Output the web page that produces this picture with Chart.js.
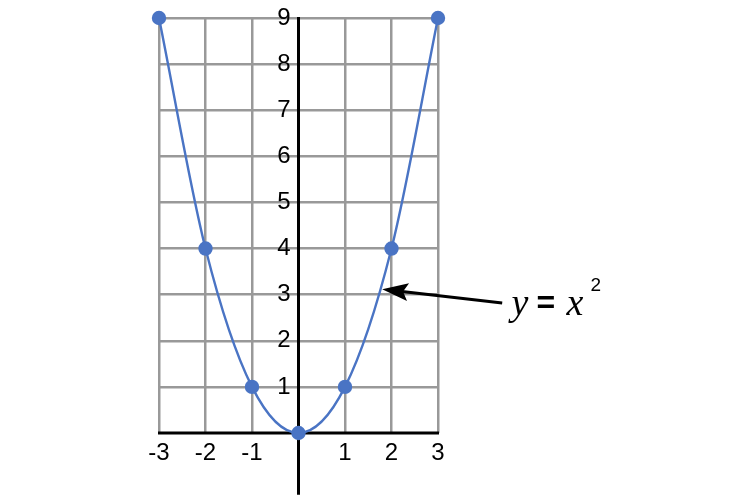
<!DOCTYPE html>
<html><head><meta charset="utf-8">
<script src="https://cdn.jsdelivr.net/npm/chart.js@4/dist/chart.umd.min.js"></script>
<style>html,body{margin:0;padding:0;background:#fff;overflow:hidden}</style>
</head><body>
<canvas id="c" width="750" height="500" style="width:750px;height:500px;display:block"></canvas>
<script>
const xValues = [-3, -2, -1, 0, 1, 2, 3];
const yValues = [9, 4, 1, 0, 1, 4, 9];
const xTickLabels = ['-3', '-2', '-1', '', '1', '2', '3'];
const yTickLabels = ['', '1', '2', '3', '4', '5', '6', '7', '8', '9'];
const curveName = 'y = x²';

const points = xValues.map((x, i) => ({x: x, y: yValues[i]}));

const axesPlugin = {
  id: 'axesPlugin',
  beforeDatasetsDraw(chart) {
    const {ctx, chartArea, scales: {x, y}} = chart;
    const x0 = x.getPixelForValue(0);
    const y0 = y.getPixelForValue(0);
    ctx.save();
    ctx.strokeStyle = '#000';
    ctx.lineWidth = 3;
    ctx.beginPath();
    ctx.moveTo(x0, chartArea.top - 1);
    ctx.lineTo(x0, y.getPixelForValue(-1.34));
    ctx.stroke();
    ctx.beginPath();
    ctx.moveTo(chartArea.left - 1, y0);
    ctx.lineTo(chartArea.right + 1, y0);
    ctx.stroke();
    ctx.restore();
  },
  afterDraw(chart) {
    const {ctx, scales: {x, y}} = chart;
    const tipX = x.getPixelForValue(1.8), tipY = y.getPixelForValue(3.12);
    const tailX = x.getPixelForValue(4.38), tailY = y.getPixelForValue(2.82);
    const ang = Math.atan2(tipY - tailY, tipX - tailX);
    ctx.save();
    ctx.strokeStyle = '#000';
    ctx.fillStyle = '#000';
    ctx.lineWidth = 3;
    const headLen = 24, headW = 9;
    const bx = tipX - headLen * Math.cos(ang), by = tipY - headLen * Math.sin(ang);
    ctx.beginPath();
    ctx.moveTo(tailX, tailY);
    ctx.lineTo(bx + 4 * Math.cos(ang), by + 4 * Math.sin(ang));
    ctx.stroke();
    ctx.beginPath();
    ctx.moveTo(tipX, tipY);
    ctx.lineTo(bx - headW * Math.sin(ang) - 2 * Math.cos(ang), by + headW * Math.cos(ang) - 2 * Math.sin(ang));
    ctx.lineTo(bx + 3 * Math.cos(ang), by + 3 * Math.sin(ang));
    ctx.lineTo(bx + headW * Math.sin(ang) - 2 * Math.cos(ang), by - headW * Math.cos(ang) - 2 * Math.sin(ang));
    ctx.closePath();
    ctx.fill();
    // label y = x²
    const parts = curveName.split(' ');
    const baseX = x.getPixelForValue(4.6), baseY = y.getPixelForValue(2.55);
    ctx.textBaseline = 'alphabetic';
    ctx.textAlign = 'left';
    ctx.font = 'italic 38px "Liberation Serif"';
    ctx.fillText(parts[0], baseX - 1, baseY);
    ctx.font = 'bold 32px "Liberation Sans"';
    ctx.fillText(parts[1], baseX + 24, baseY - 2);
    ctx.font = 'italic 38px "Liberation Serif"';
    const xs = parts[2].slice(0, 1), sup = parts[2].slice(1);
    ctx.fillText(xs, baseX + 54, baseY);
    ctx.font = '19px "Liberation Sans"';
    ctx.fillText(sup === '²' ? '2' : sup, baseX + 78, baseY - 24);
    ctx.restore();
  }
};

Chart.defaults.font.family = '"Liberation Sans", Arial, sans-serif';

new Chart(document.getElementById('c'), {
  type: 'scatter',
  data: {
    datasets: [{
      data: points,
      showLine: true,
      borderColor: '#4a74c4',
      backgroundColor: '#4a74c4',
      borderWidth: 2.4,
      pointRadius: 6,
      pointHoverRadius: 6,
      cubicInterpolationMode: 'monotone',
      clip: false
    }]
  },
  options: {
    responsive: false,
    animation: false,
    devicePixelRatio: 1,
    layout: {padding: {left: 159, right: 312, top: 18, bottom: 30}},
    plugins: {legend: {display: false}, tooltip: {enabled: false}},
    scales: {
      x: {
        type: 'linear',
        position: 'bottom',
        min: -3, max: 3,
        afterFit(s) { s.height = 37; s.paddingLeft = 0; s.paddingRight = 0; },
        border: {display: false},
        grid: {
          color: (c) => c.tick && c.tick.value === 0 ? 'rgba(0,0,0,0)' : '#999999',
          lineWidth: 2.5,
          drawTicks: false
        },
        ticks: {
          stepSize: 1,
          autoSkip: false,
          maxRotation: 0,
          color: '#000',
          font: {size: 24},
          padding: 6,
          callback: (v) => { const i = xValues.indexOf(v); return i >= 0 ? xTickLabels[i] : ''; }
        }
      },
      y: {
        type: 'linear',
        position: {x: -0.17},
        min: 0, max: 9,
        afterFit(s) { s.width = 0; s.paddingTop = 0; s.paddingBottom = 0; },
        border: {display: false},
        grid: {
          color: (c) => c.tick && c.tick.value === 0 ? 'rgba(0,0,0,0)' : '#999999',
          lineWidth: 2.5,
          drawTicks: false
        },
        ticks: {
          stepSize: 1,
          autoSkip: false,
          color: '#000',
          font: {size: 24},
          padding: 8,
          callback: (v) => yTickLabels[v] !== undefined ? yTickLabels[v] : ''
        }
      }
    }
  },
  plugins: [axesPlugin]
});
</script>
</body></html>
